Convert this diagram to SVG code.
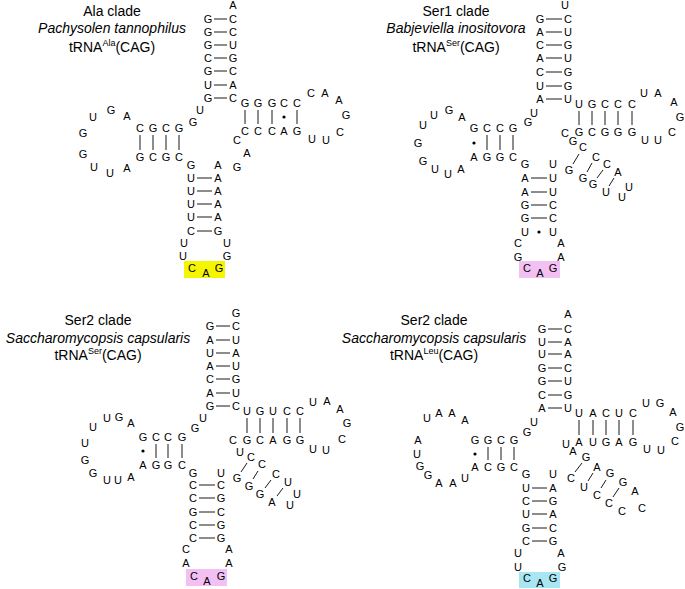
<svg xmlns="http://www.w3.org/2000/svg" width="685" height="589" viewBox="0 0 685 589">
<style>
.n{font-family:"Liberation Sans",Arial,sans-serif;font-size:11px;text-anchor:middle;dominant-baseline:central;fill:#000}
.t{font-family:"Liberation Sans",Arial,sans-serif;font-size:14px;text-anchor:middle;fill:#000}
.i{font-style:italic}
.s{font-size:9px}
.c line{stroke:#000;stroke-width:0.9}
.c circle{fill:#000}
</style>
<rect width="685" height="589" fill="#fff"/>
<g id="highlights">
<rect x="184" y="261" width="41" height="17" fill="#f5f500"/>
<rect x="519" y="261" width="41" height="17" fill="#f3c0f3"/>
<rect x="186" y="569" width="41" height="17" fill="#f3c0f3"/>
<rect x="519" y="572" width="41" height="16" fill="#a8e6f3"/>
</g>
<g id="trna-ala">
<text class="t" x="112" y="16">Ala clade</text>
<text class="t i" x="112" y="33">Pachysolen tannophilus</text>
<text class="t" x="112" y="52">tRNA<tspan class="s" dy="-6">Ala</tspan><tspan dy="6">(CAG)</tspan></text>
<text class="n" x="233" y="5">A</text>
<text class="n" x="208" y="19">G</text><text class="n" x="208" y="32">G</text><text class="n" x="208" y="45">G</text><text class="n" x="208" y="58">C</text><text class="n" x="208" y="71">G</text><text class="n" x="208" y="85">U</text><text class="n" x="208" y="98">G</text>
<text class="n" x="233" y="19">C</text><text class="n" x="233" y="32">C</text><text class="n" x="233" y="45">U</text><text class="n" x="233" y="58">G</text><text class="n" x="233" y="71">C</text><text class="n" x="233" y="85">A</text><text class="n" x="233" y="98">C</text>
<text class="n" x="245" y="103">G</text><text class="n" x="258" y="103">G</text><text class="n" x="272" y="103">G</text><text class="n" x="284" y="103">C</text><text class="n" x="297" y="103">C</text>
<text class="n" x="245" y="131">C</text><text class="n" x="258" y="131">C</text><text class="n" x="272" y="131">C</text><text class="n" x="284" y="131">A</text><text class="n" x="297" y="131">G</text>
<text class="n" x="311" y="93">C</text><text class="n" x="325" y="93">A</text><text class="n" x="339" y="100">A</text><text class="n" x="346" y="115">G</text><text class="n" x="340" y="132">C</text><text class="n" x="326" y="140">U</text><text class="n" x="312" y="139">U</text>
<text class="n" x="237" y="140">C</text><text class="n" x="247" y="153">A</text><text class="n" x="237" y="167">G</text>
<text class="n" x="191" y="165">G</text><text class="n" x="191" y="178">U</text><text class="n" x="191" y="191">U</text><text class="n" x="191" y="204">U</text><text class="n" x="191" y="217">U</text><text class="n" x="191" y="231">C</text>
<text class="n" x="218" y="165">A</text><text class="n" x="218" y="178">A</text><text class="n" x="218" y="191">A</text><text class="n" x="218" y="204">A</text><text class="n" x="218" y="217">A</text><text class="n" x="218" y="231">G</text>
<text class="n" x="184" y="243">U</text><text class="n" x="183" y="256">U</text><text class="n" x="227" y="243">U</text><text class="n" x="227" y="256">G</text>
<text class="n" x="192" y="268">C</text><text class="n" x="206" y="273">A</text><text class="n" x="219" y="268">G</text>
<text class="n" x="200" y="110">U</text><text class="n" x="193" y="122">G</text>
<text class="n" x="140" y="128">C</text><text class="n" x="153" y="128">G</text><text class="n" x="166" y="128">C</text><text class="n" x="179" y="128">G</text>
<text class="n" x="140" y="157">G</text><text class="n" x="153" y="157">C</text><text class="n" x="166" y="157">G</text><text class="n" x="179" y="157">C</text>
<text class="n" x="127" y="116">A</text><text class="n" x="111" y="110">G</text><text class="n" x="93" y="117">U</text><text class="n" x="83" y="133">G</text><text class="n" x="83" y="154">G</text><text class="n" x="94" y="167">U</text><text class="n" x="110" y="173">U</text><text class="n" x="127" y="168">A</text>
</g>
<g id="trna-ser1">
<text class="t" x="456" y="16">Ser1 clade</text>
<text class="t i" x="456" y="33">Babjeviella inositovora</text>
<text class="t" x="456" y="52">tRNA<tspan class="s" dy="-6">Ser</tspan><tspan dy="6">(CAG)</tspan></text>
<text class="n" x="565" y="5">U</text>
<text class="n" x="540" y="19">G</text><text class="n" x="540" y="32">A</text><text class="n" x="540" y="45">C</text><text class="n" x="540" y="58">A</text><text class="n" x="540" y="72">C</text><text class="n" x="540" y="86">U</text><text class="n" x="540" y="99">A</text>
<text class="n" x="568" y="19">C</text><text class="n" x="568" y="32">U</text><text class="n" x="568" y="45">G</text><text class="n" x="568" y="58">U</text><text class="n" x="568" y="72">G</text><text class="n" x="568" y="86">G</text><text class="n" x="568" y="99">U</text>
<text class="n" x="579" y="104">U</text><text class="n" x="592" y="104">G</text><text class="n" x="605" y="104">C</text><text class="n" x="618" y="104">C</text><text class="n" x="632" y="104">C</text>
<text class="n" x="579" y="132">G</text><text class="n" x="592" y="132">C</text><text class="n" x="605" y="132">G</text><text class="n" x="618" y="132">G</text><text class="n" x="632" y="132">G</text>
<text class="n" x="644" y="93">U</text><text class="n" x="658" y="93">A</text><text class="n" x="674" y="102">A</text><text class="n" x="680" y="117">G</text><text class="n" x="672" y="132">C</text><text class="n" x="658" y="140">U</text><text class="n" x="645" y="140">U</text>
<text class="n" x="565" y="133">C</text><text class="n" x="573" y="141">G</text><text class="n" x="583" y="147">C</text><text class="n" x="596" y="157">C</text><text class="n" x="607" y="164">C</text><text class="n" x="618" y="172">A</text><text class="n" x="629" y="187">U</text><text class="n" x="622" y="197">U</text><text class="n" x="606" y="192">U</text><text class="n" x="593" y="184">G</text><text class="n" x="583" y="178">G</text><text class="n" x="569" y="170">G</text>
<text class="n" x="525" y="164">G</text><text class="n" x="525" y="178">A</text><text class="n" x="525" y="192">A</text><text class="n" x="525" y="205">G</text><text class="n" x="525" y="218">G</text><text class="n" x="525" y="232">U</text>
<text class="n" x="553" y="164">U</text><text class="n" x="553" y="178">U</text><text class="n" x="553" y="192">U</text><text class="n" x="553" y="205">C</text><text class="n" x="553" y="218">C</text><text class="n" x="553" y="232">U</text>
<text class="n" x="518" y="243">C</text><text class="n" x="518" y="257">G</text><text class="n" x="561" y="243">A</text><text class="n" x="561" y="257">A</text>
<text class="n" x="527" y="268">C</text><text class="n" x="540" y="273">A</text><text class="n" x="553" y="268">G</text>
<text class="n" x="534" y="113">U</text><text class="n" x="528" y="122">G</text>
<text class="n" x="474" y="128">G</text><text class="n" x="487" y="128">C</text><text class="n" x="500" y="128">C</text><text class="n" x="513" y="128">G</text>
<text class="n" x="474" y="157">A</text><text class="n" x="487" y="157">G</text><text class="n" x="500" y="157">G</text><text class="n" x="513" y="157">C</text>
<text class="n" x="462" y="117">A</text><text class="n" x="449" y="110">G</text><text class="n" x="434" y="115">U</text><text class="n" x="423" y="125">U</text><text class="n" x="418" y="143">G</text><text class="n" x="423" y="161">G</text><text class="n" x="435" y="169">U</text><text class="n" x="448" y="174">U</text><text class="n" x="461" y="169">A</text>
</g>
<g id="trna-ser2">
<text class="t" x="98" y="325">Ser2 clade</text>
<text class="t i" x="98" y="343">Saccharomycopsis capsularis</text>
<text class="t" x="98" y="360">tRNA<tspan class="s" dy="-6">Ser</tspan><tspan dy="6">(CAG)</tspan></text>
<text class="n" x="236" y="313">G</text>
<text class="n" x="210" y="326">G</text><text class="n" x="210" y="340">A</text><text class="n" x="210" y="353">U</text><text class="n" x="210" y="366">A</text><text class="n" x="210" y="379">C</text><text class="n" x="210" y="393">A</text><text class="n" x="210" y="406">G</text>
<text class="n" x="236" y="326">C</text><text class="n" x="236" y="340">U</text><text class="n" x="236" y="353">A</text><text class="n" x="236" y="366">U</text><text class="n" x="236" y="379">G</text><text class="n" x="236" y="393">U</text><text class="n" x="236" y="406">C</text>
<text class="n" x="247" y="411">U</text><text class="n" x="260" y="411">G</text><text class="n" x="273" y="411">U</text><text class="n" x="287" y="411">C</text><text class="n" x="300" y="411">C</text>
<text class="n" x="247" y="440">G</text><text class="n" x="260" y="440">C</text><text class="n" x="273" y="440">A</text><text class="n" x="287" y="440">G</text><text class="n" x="300" y="440">G</text>
<text class="n" x="313" y="402">U</text><text class="n" x="327" y="401">A</text><text class="n" x="340" y="409">A</text><text class="n" x="347" y="423">G</text><text class="n" x="342" y="439">C</text><text class="n" x="326" y="450">U</text><text class="n" x="313" y="449">U</text>
<text class="n" x="233" y="440">C</text><text class="n" x="240" y="452">U</text><text class="n" x="251" y="457">C</text><text class="n" x="262" y="464">C</text><text class="n" x="276" y="474">C</text><text class="n" x="288" y="482">U</text><text class="n" x="297" y="494">U</text><text class="n" x="290" y="505">U</text><text class="n" x="272" y="502">A</text><text class="n" x="260" y="494">G</text><text class="n" x="249" y="486">G</text><text class="n" x="237" y="478">G</text>
<text class="n" x="193" y="473">G</text><text class="n" x="193" y="485">C</text><text class="n" x="193" y="498">C</text><text class="n" x="193" y="512">G</text><text class="n" x="193" y="525">C</text><text class="n" x="193" y="538">C</text>
<text class="n" x="221" y="473">U</text><text class="n" x="221" y="485">C</text><text class="n" x="221" y="498">G</text><text class="n" x="221" y="512">C</text><text class="n" x="221" y="525">G</text><text class="n" x="221" y="538">G</text>
<text class="n" x="186" y="549">C</text><text class="n" x="186" y="563">A</text><text class="n" x="229" y="549">A</text><text class="n" x="229" y="563">A</text>
<text class="n" x="194" y="576">C</text><text class="n" x="207" y="581">A</text><text class="n" x="221" y="576">G</text>
<text class="n" x="203" y="418">U</text><text class="n" x="195" y="428">G</text>
<text class="n" x="143" y="437">G</text><text class="n" x="156" y="437">C</text><text class="n" x="168" y="437">C</text><text class="n" x="182" y="437">G</text>
<text class="n" x="143" y="465">A</text><text class="n" x="156" y="465">G</text><text class="n" x="168" y="465">G</text><text class="n" x="182" y="465">C</text>
<text class="n" x="131" y="423">A</text><text class="n" x="119" y="417">G</text><text class="n" x="107" y="418">U</text><text class="n" x="93" y="427">U</text><text class="n" x="85" y="443">U</text><text class="n" x="85" y="460">G</text><text class="n" x="93" y="473">G</text><text class="n" x="107" y="480">U</text><text class="n" x="118" y="480">U</text><text class="n" x="131" y="477">A</text>
</g>
<g id="trna-leu">
<text class="t" x="434" y="325">Ser2 clade</text>
<text class="t i" x="434" y="343">Saccharomycopsis capsularis</text>
<text class="t" x="434" y="360">tRNA<tspan class="s" dy="-6">Leu</tspan><tspan dy="6">(CAG)</tspan></text>
<text class="n" x="568" y="314">A</text>
<text class="n" x="542" y="329">G</text><text class="n" x="542" y="342">U</text><text class="n" x="542" y="354">U</text><text class="n" x="542" y="368">G</text><text class="n" x="542" y="381">G</text><text class="n" x="542" y="395">C</text><text class="n" x="542" y="408">A</text>
<text class="n" x="568" y="329">C</text><text class="n" x="568" y="342">A</text><text class="n" x="568" y="354">A</text><text class="n" x="568" y="368">C</text><text class="n" x="568" y="381">U</text><text class="n" x="568" y="395">G</text><text class="n" x="568" y="408">U</text>
<text class="n" x="579" y="413">U</text><text class="n" x="593" y="413">A</text><text class="n" x="606" y="413">C</text><text class="n" x="619" y="413">U</text><text class="n" x="633" y="413">C</text>
<text class="n" x="579" y="442">A</text><text class="n" x="593" y="442">U</text><text class="n" x="606" y="442">G</text><text class="n" x="619" y="442">A</text><text class="n" x="633" y="442">G</text>
<text class="n" x="646" y="403">U</text><text class="n" x="660" y="403">G</text><text class="n" x="673" y="412">A</text><text class="n" x="680" y="427">G</text><text class="n" x="675" y="441">C</text><text class="n" x="661" y="450">U</text><text class="n" x="647" y="449">U</text>
<text class="n" x="566" y="444">U</text><text class="n" x="573" y="451">A</text><text class="n" x="586" y="457">G</text><text class="n" x="597" y="467">A</text><text class="n" x="610" y="473">G</text><text class="n" x="623" y="482">G</text><text class="n" x="635" y="491">A</text><text class="n" x="642" y="508">C</text><text class="n" x="622" y="511">C</text><text class="n" x="609" y="503">C</text><text class="n" x="597" y="495">C</text><text class="n" x="584" y="487">U</text><text class="n" x="571" y="478">C</text>
<text class="n" x="526" y="474">G</text><text class="n" x="526" y="488">U</text><text class="n" x="526" y="501">C</text><text class="n" x="526" y="514">U</text><text class="n" x="526" y="528">G</text><text class="n" x="526" y="541">C</text>
<text class="n" x="553" y="474">U</text><text class="n" x="553" y="488">A</text><text class="n" x="553" y="501">G</text><text class="n" x="553" y="514">A</text><text class="n" x="553" y="528">C</text><text class="n" x="553" y="541">G</text>
<text class="n" x="518" y="553">U</text><text class="n" x="518" y="567">U</text><text class="n" x="561" y="553">A</text><text class="n" x="562" y="567">G</text>
<text class="n" x="527" y="578">C</text><text class="n" x="540" y="583">A</text><text class="n" x="553" y="578">G</text>
<text class="n" x="534" y="422">U</text><text class="n" x="527" y="432">G</text>
<text class="n" x="475" y="440">G</text><text class="n" x="488" y="440">G</text><text class="n" x="501" y="440">C</text><text class="n" x="514" y="440">G</text>
<text class="n" x="475" y="467">A</text><text class="n" x="488" y="467">C</text><text class="n" x="501" y="467">G</text><text class="n" x="514" y="467">C</text>
<text class="n" x="465" y="420">A</text><text class="n" x="452" y="413">A</text><text class="n" x="439" y="413">A</text><text class="n" x="427" y="418">U</text><text class="n" x="418" y="440">A</text><text class="n" x="417" y="454">U</text><text class="n" x="420" y="466">G</text><text class="n" x="428" y="475">G</text><text class="n" x="439" y="483">A</text><text class="n" x="453" y="483">A</text><text class="n" x="465" y="478">U</text>
</g>
<g id="connectors" class="c">
<!-- Ala -->
<line x1="214" y1="19" x2="227" y2="19"/><line x1="214" y1="32" x2="227" y2="32"/><line x1="214" y1="45" x2="227" y2="45"/><line x1="214" y1="58" x2="227" y2="58"/><line x1="214" y1="71" x2="227" y2="71"/><line x1="214" y1="85" x2="227" y2="85"/><line x1="214" y1="98" x2="227" y2="98"/>
<line x1="245" y1="110" x2="245" y2="124"/><line x1="258" y1="110" x2="258" y2="124"/><line x1="272" y1="110" x2="272" y2="124"/><circle cx="284" cy="117" r="1.6"/><line x1="297" y1="110" x2="297" y2="124"/>
<line x1="197" y1="178" x2="212" y2="178"/><line x1="197" y1="191" x2="212" y2="191"/><line x1="197" y1="204" x2="212" y2="204"/><line x1="197" y1="217" x2="212" y2="217"/><line x1="197" y1="231" x2="212" y2="231"/>
<line x1="140" y1="135" x2="140" y2="150"/><line x1="153" y1="135" x2="153" y2="150"/><line x1="166" y1="135" x2="166" y2="150"/><line x1="179" y1="135" x2="179" y2="150"/>
<!-- Ser1 -->
<line x1="546" y1="19" x2="562" y2="19"/><line x1="546" y1="32" x2="562" y2="32"/><line x1="546" y1="45" x2="562" y2="45"/><line x1="546" y1="58" x2="562" y2="58"/><line x1="546" y1="72" x2="562" y2="72"/><line x1="546" y1="86" x2="562" y2="86"/><line x1="546" y1="99" x2="562" y2="99"/>
<line x1="579" y1="111" x2="579" y2="125"/><line x1="592" y1="111" x2="592" y2="125"/><line x1="605" y1="111" x2="605" y2="125"/><line x1="618" y1="111" x2="618" y2="125"/><line x1="632" y1="111" x2="632" y2="125"/>
<line x1="573" y1="164" x2="579" y2="154"/><line x1="587" y1="172" x2="592" y2="163"/><line x1="597" y1="178" x2="603" y2="170"/><line x1="609" y1="186" x2="614" y2="178"/>
<line x1="531" y1="178" x2="547" y2="178"/><line x1="531" y1="192" x2="547" y2="192"/><line x1="531" y1="205" x2="547" y2="205"/><line x1="531" y1="218" x2="547" y2="218"/><circle cx="539" cy="232" r="1.6"/>
<line x1="487" y1="135" x2="487" y2="150"/><line x1="500" y1="135" x2="500" y2="150"/><line x1="513" y1="135" x2="513" y2="150"/><circle cx="474" cy="143" r="1.6"/>
<!-- Ser2 -->
<line x1="216" y1="326" x2="230" y2="326"/><line x1="216" y1="340" x2="230" y2="340"/><line x1="216" y1="353" x2="230" y2="353"/><line x1="216" y1="366" x2="230" y2="366"/><line x1="216" y1="379" x2="230" y2="379"/><line x1="216" y1="393" x2="230" y2="393"/><line x1="216" y1="406" x2="230" y2="406"/>
<line x1="247" y1="418" x2="247" y2="433"/><line x1="260" y1="418" x2="260" y2="433"/><line x1="273" y1="418" x2="273" y2="433"/><line x1="287" y1="418" x2="287" y2="433"/><line x1="300" y1="418" x2="300" y2="433"/>
<line x1="241" y1="472" x2="247" y2="463"/><line x1="253" y1="479" x2="258" y2="471"/><line x1="265" y1="488" x2="271" y2="480"/><line x1="277" y1="496" x2="283" y2="488"/>
<line x1="199" y1="485" x2="215" y2="485"/><line x1="199" y1="498" x2="215" y2="498"/><line x1="199" y1="512" x2="215" y2="512"/><line x1="199" y1="525" x2="215" y2="525"/><line x1="199" y1="538" x2="215" y2="538"/>
<line x1="156" y1="444" x2="156" y2="458"/><line x1="168" y1="444" x2="168" y2="458"/><line x1="182" y1="444" x2="182" y2="458"/><circle cx="143" cy="451" r="1.6"/>
<!-- Leu -->
<line x1="548" y1="329" x2="562" y2="329"/><line x1="548" y1="342" x2="562" y2="342"/><line x1="548" y1="354" x2="562" y2="354"/><line x1="548" y1="368" x2="562" y2="368"/><line x1="548" y1="381" x2="562" y2="381"/><line x1="548" y1="395" x2="562" y2="395"/><line x1="548" y1="408" x2="562" y2="408"/>
<line x1="579" y1="420" x2="579" y2="435"/><line x1="593" y1="420" x2="593" y2="435"/><line x1="606" y1="420" x2="606" y2="435"/><line x1="619" y1="420" x2="619" y2="435"/><line x1="633" y1="420" x2="633" y2="435"/>
<line x1="575" y1="472" x2="582" y2="463"/><line x1="588" y1="481" x2="593" y2="473"/><line x1="601" y1="488" x2="606" y2="480"/><line x1="613" y1="497" x2="619" y2="488"/>
<line x1="532" y1="488" x2="547" y2="488"/><line x1="532" y1="501" x2="547" y2="501"/><line x1="532" y1="514" x2="547" y2="514"/><line x1="532" y1="528" x2="547" y2="528"/><line x1="532" y1="541" x2="547" y2="541"/>
<line x1="488" y1="447" x2="488" y2="460"/><line x1="501" y1="447" x2="501" y2="460"/><line x1="514" y1="447" x2="514" y2="460"/><circle cx="475" cy="454" r="1.6"/>
</g>
</svg>
